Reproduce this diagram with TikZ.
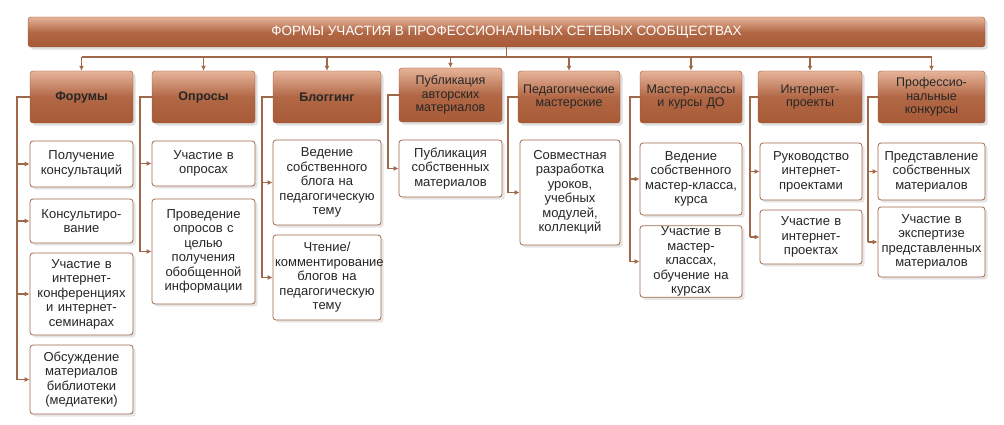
\documentclass[tikz,border=0pt]{standalone}
\usepackage{fontspec}
\setmainfont{Liberation Sans}
\usetikzlibrary{shadows,arrows.meta}
\definecolor{br}{HTML}{A85A36}
\definecolor{brl}{HTML}{E6B49A}
\definecolor{brd}{HTML}{9C4E2C}
\definecolor{ln}{HTML}{A0684A}
\begin{document}
\begin{tikzpicture}[x=1pt,y=-1pt,
 hdr/.style={draw=brd,rounded corners=3pt,top color=brl,bottom color=br,middle color=br!85!brl,
   font=\fontsize{12.5}{13.5}\selectfont\bfseries,text=black!85,align=center,inner sep=1pt,drop shadow={opacity=0.25}},
 box/.style={draw=ln,line width=0.8pt,rounded corners=3pt,fill=white,font=\fontsize{13}{14.5}\selectfont,text=black!85,align=center,inner sep=1pt,drop shadow={opacity=0.2}},
 con/.style={draw=ln,line width=1.5pt,-{Latex[length=5pt,width=5pt]}},
 con0/.style={draw=ln,line width=1.5pt}]
\useasboundingbox (0,0) rectangle (1004,425);
\node[hdr,minimum width=957,minimum height=30,font=\fontsize{13.5}{14}\selectfont,text=white] (t) at (506.5,32) {ФОРМЫ УЧАСТИЯ В ПРОФЕССИОНАЛЬНЫХ СЕТЕВЫХ СООБЩЕСТВАХ};
% headers
\newcommand\hd[6]{\node[hdr,minimum width=#3,minimum height=#5,text width=#3-6] (#1) at (#2,#4) {#6};}
\hd{h1}{81.5}{103}{97}{52}{Форумы}
\hd{h2}{203.5}{103}{97}{52}{Опросы}
\hd{h3}{327}{108}{97}{52}{Блоггинг}
\hd{h4}{450.5}{103}{95}{54}{\mdseries Публикация авторских материалов}
\hd{h5}{569}{102}{97}{52}{\mdseries Педагогические мастерские}
\hd{h6}{691}{102}{97}{52}{\mdseries Мастер-классы и курсы ДО}
\hd{h7}{810}{104}{97}{52}{\mdseries Интернет-\\проекты}
\hd{h8}{931.5}{107}{97}{52}{\mdseries Профессио-\\нальные\\конкурсы}
\coordinate (bl) at (81.5,57); \coordinate (br) at (931.5,57);
\draw[con0] (t.south) -- (506.5,57);
\draw[con0] (bl) -- (br);
\foreach \h in {h1,h2,h3,h4,h5,h6,h7,h8}{\draw[con] (\h.north|-bl) -- (\h.north);}
% children
\newcommand\bx[6]{\node[box,minimum width=#3,minimum height=#5,text width=#3-4] (#1) at (#2,#4) {#6};}
\bx{a1}{81.5}{103}{164}{46}{Получение\\консультаций}
\bx{a2}{81.5}{103}{221}{44}{Консультиро-\\вание}
\bx{a3}{81.5}{103}{294}{82}{Участие в\\интернет-\\конференциях\\и интернет-\\семинарах}
\bx{a4}{81.5}{103}{379.5}{69}{Обсуждение\\материалов\\библиотеки\\(медиатеки)}
\bx{b1}{203.5}{103}{163.5}{45}{Участие в\\опросах}
\bx{b2}{203.5}{103}{251.5}{105}{Проведение\\опросов с\\целью\\получения\\обобщенной\\информации}
\bx{c1}{327}{108}{182.5}{85}{Ведение\\собственного\\блога на\\педагогическую\\тему}
\bx{c2}{327}{108}{277.5}{85}{Чтение/\\комментирование\\блогов на\\педагогическую\\тему}
\bx{d1}{450.5}{103}{168.5}{57}{Публикация\\собственных\\материалов}
\bx{e1}{570}{100}{192.5}{105}{Совместная\\разработка\\уроков,\\учебных\\модулей,\\коллекций}
\bx{f1}{691}{102}{179}{72}{Ведение\\собственного\\мастер-класса,\\курса}
\bx{f2}{691}{102}{261.5}{69}{Участие в\\мастер-классах,\\обучение на\\курсах}
\bx{g1}{811}{102}{171.5}{57}{Руководство\\интернет-\\проектами}
\bx{g2}{811}{102}{237}{54}{Участие в\\интернет-\\проектах}
\bx{k1}{931.5}{107}{171.5}{57}{Представление\\собственных\\материалов}
\bx{k2}{931.5}{107}{242}{70}{Участие в\\экспертизе\\представленных\\материалов}
% side connectors
\newcommand\side[4]{\coordinate (#1s) at (#2,0);
 \draw[con0] (#3.west) -- (#1s|-#3.west) -- (#1s|-#4.west);}
\side{p1}{17}{h1}{a4}
\side{p2}{140}{h2}{b2}
\side{p3}{262}{h3}{c2}
\side{p4}{388}{h4}{d1}
\side{p5}{508}{h5}{e1}
\side{p6}{630}{h6}{f2}
\side{p7}{750}{h7}{g2}
\side{p8}{868}{h8}{k2}
\foreach \p/\b in {p1/a1,p1/a2,p1/a3,p1/a4,p2/b1,p2/b2,p3/c1,p3/c2,p4/d1,p5/e1,p6/f1,p6/f2,p7/g1,p7/g2,p8/k1,p8/k2}
 {\draw[con] (\p s|-\b.west) -- (\b.west);}
\end{tikzpicture}
\end{document}
